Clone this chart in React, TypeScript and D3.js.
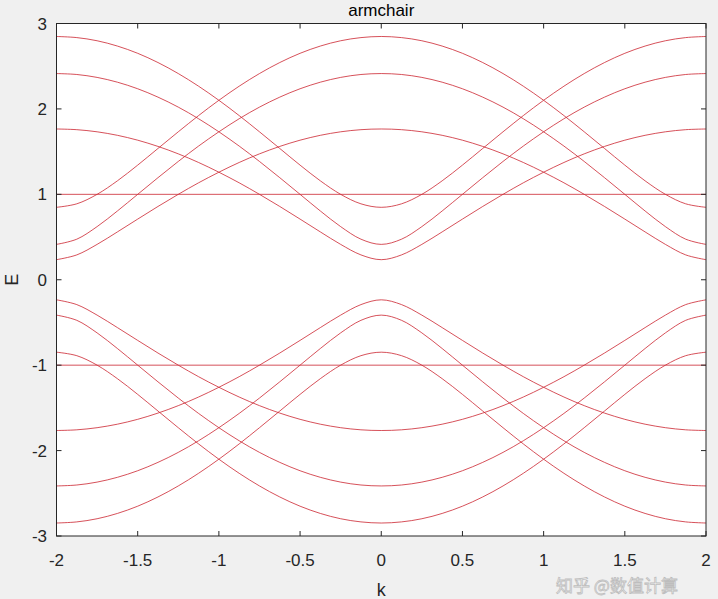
import React from "react";
import * as d3 from "d3";

const kValues = d3.range(33).map((i) => -2 + i * 0.125);

const upperA = [0.848,0.889,1.000,1.158,1.342,1.537,1.732,1.922,2.101,2.266,2.414,2.543,2.651,2.736,2.798,2.835,2.848,2.835,2.798,2.736,2.651,2.543,2.414,2.266,2.101,1.922,1.732,1.537,1.342,1.158,1.000,0.889,0.848];
const upperB = [2.848,2.835,2.798,2.736,2.651,2.543,2.414,2.266,2.101,1.922,1.732,1.537,1.342,1.158,1.000,0.889,0.848,0.889,1.000,1.158,1.342,1.537,1.732,1.922,2.101,2.266,2.414,2.543,2.651,2.736,2.798,2.835,2.848];
const upperC = [0.414,0.475,0.622,0.805,1.000,1.195,1.385,1.565,1.732,1.885,2.021,2.138,2.236,2.313,2.369,2.403,2.414,2.403,2.369,2.313,2.236,2.138,2.021,1.885,1.732,1.565,1.385,1.195,1.000,0.805,0.622,0.475,0.414];
const upperD = [2.414,2.403,2.369,2.313,2.236,2.138,2.021,1.885,1.732,1.565,1.385,1.195,1.000,0.805,0.622,0.475,0.414,0.475,0.622,0.805,1.000,1.195,1.385,1.565,1.732,1.885,2.021,2.138,2.236,2.313,2.369,2.403,2.414];
const upperE = [0.235,0.291,0.414,0.560,0.710,0.858,1.000,1.135,1.259,1.373,1.474,1.561,1.634,1.691,1.732,1.757,1.765,1.757,1.732,1.691,1.634,1.561,1.474,1.373,1.259,1.135,1.000,0.858,0.710,0.560,0.414,0.291,0.235];
const upperF = [1.765,1.757,1.732,1.691,1.634,1.561,1.474,1.373,1.259,1.135,1.000,0.858,0.710,0.560,0.414,0.291,0.235,0.291,0.414,0.560,0.710,0.858,1.000,1.135,1.259,1.373,1.474,1.561,1.634,1.691,1.732,1.757,1.765];

const lowerA = [-0.848,-0.889,-1.000,-1.158,-1.342,-1.537,-1.732,-1.922,-2.101,-2.266,-2.414,-2.543,-2.651,-2.736,-2.798,-2.835,-2.848,-2.835,-2.798,-2.736,-2.651,-2.543,-2.414,-2.266,-2.101,-1.922,-1.732,-1.537,-1.342,-1.158,-1.000,-0.889,-0.848];
const lowerB = [-2.848,-2.835,-2.798,-2.736,-2.651,-2.543,-2.414,-2.266,-2.101,-1.922,-1.732,-1.537,-1.342,-1.158,-1.000,-0.889,-0.848,-0.889,-1.000,-1.158,-1.342,-1.537,-1.732,-1.922,-2.101,-2.266,-2.414,-2.543,-2.651,-2.736,-2.798,-2.835,-2.848];
const lowerC = [-0.414,-0.475,-0.622,-0.805,-1.000,-1.195,-1.385,-1.565,-1.732,-1.885,-2.021,-2.138,-2.236,-2.313,-2.369,-2.403,-2.414,-2.403,-2.369,-2.313,-2.236,-2.138,-2.021,-1.885,-1.732,-1.565,-1.385,-1.195,-1.000,-0.805,-0.622,-0.475,-0.414];
const lowerD = [-2.414,-2.403,-2.369,-2.313,-2.236,-2.138,-2.021,-1.885,-1.732,-1.565,-1.385,-1.195,-1.000,-0.805,-0.622,-0.475,-0.414,-0.475,-0.622,-0.805,-1.000,-1.195,-1.385,-1.565,-1.732,-1.885,-2.021,-2.138,-2.236,-2.313,-2.369,-2.403,-2.414];
const lowerE = [-0.235,-0.291,-0.414,-0.560,-0.710,-0.858,-1.000,-1.135,-1.259,-1.373,-1.474,-1.561,-1.634,-1.691,-1.732,-1.757,-1.765,-1.757,-1.732,-1.691,-1.634,-1.561,-1.474,-1.373,-1.259,-1.135,-1.000,-0.858,-0.710,-0.560,-0.414,-0.291,-0.235];
const lowerF = [-1.765,-1.757,-1.732,-1.691,-1.634,-1.561,-1.474,-1.373,-1.259,-1.135,-1.000,-0.858,-0.710,-0.560,-0.414,-0.291,-0.235,-0.291,-0.414,-0.560,-0.710,-0.858,-1.000,-1.135,-1.259,-1.373,-1.474,-1.561,-1.634,-1.691,-1.732,-1.757,-1.765];

const flatBands = [1, -1];

const xTicks = [-2, -1.5, -1, -0.5, 0, 0.5, 1, 1.5, 2];
const yTicks = [-3, -2, -1, 0, 1, 2, 3];

const titleText = "armchair";
const xLabel = "k";
const yLabel = "E";
const watermark = "知乎 @数值计算";

const W = 718;
const H = 599;
const L = 56.5;
const R = 706;
const T = 23.5;
const B = 536;

export default function App() {
  const x = d3.scaleLinear().domain([-2, 2]).range([L, R]);
  const y = d3.scaleLinear().domain([-3, 3]).range([B, T]);
  const line = d3
    .line<number>()
    .x((_, i) => x(kValues[i]))
    .y((d) => y(d))
    .curve(d3.curveCatmullRom);
  const bands = [upperA, upperB, upperC, upperD, upperE, upperF, lowerA, lowerB, lowerC, lowerD, lowerE, lowerF];
  const font = "'Liberation Sans', Arial, sans-serif";
  const axisColor = "#262626";
  const tickLen = 5;
  return (
    <svg
      width={W}
      height={H}
      style={{ position: "fixed", left: 0, top: 0, background: "#f0f0f0" }}
      fontFamily={font}
    >
      <rect x={0} y={0} width={W} height={H} fill="#f0f0f0" />
      <rect x={L} y={T} width={R - L} height={B - T} fill="#ffffff" />
      <g fill="none" stroke="#cc2430" strokeWidth={0.8}>
        {bands.map((b, i) => (
          <path key={i} d={line(b) || ""} />
        ))}
        {flatBands.map((v, i) => (
          <line key={"f" + i} x1={x(-2)} x2={x(2)} y1={y(v)} y2={y(v)} />
        ))}
      </g>
      <g stroke={axisColor} strokeWidth={1}>
        <rect x={L} y={T} width={R - L} height={B - T} fill="none" />
        {xTicks.map((t) => (
          <g key={"xt" + t}>
            <line x1={x(t)} x2={x(t)} y1={B} y2={B - tickLen} />
            <line x1={x(t)} x2={x(t)} y1={T} y2={T + tickLen} />
          </g>
        ))}
        {yTicks.map((t) => (
          <g key={"yt" + t}>
            <line x1={L} x2={L + tickLen} y1={y(t)} y2={y(t)} />
            <line x1={R} x2={R - tickLen} y1={y(t)} y2={y(t)} />
          </g>
        ))}
      </g>
      <g fill={axisColor} fontSize={17}>
        {xTicks.map((t) => (
          <text key={"xl" + t} x={x(t)} y={566} textAnchor="middle">
            {String(t)}
          </text>
        ))}
        {yTicks.map((t) => (
          <text key={"yl" + t} x={47} y={y(t) + 6} textAnchor="end">
            {String(t)}
          </text>
        ))}
      </g>
      <text x={(L + R) / 2} y={16} textAnchor="middle" fontSize={17} fill="#000">
        {titleText}
      </text>
      <text x={(L + R) / 2} y={596} textAnchor="middle" fontSize={18} fill={axisColor}>
        {xLabel}
      </text>
      <text
        transform={`translate(18, ${(T + B) / 2}) rotate(-90)`}
        textAnchor="middle"
        fontSize={18}
        fill={axisColor}
      >
        {yLabel}
      </text>
      <text
        x={556}
        y={592}
        fontSize={17}
        fontFamily="'Noto Sans CJK SC', sans-serif"
        fill="#ffffff"
        stroke="#b8b8b8"
        strokeWidth={0.8}
        opacity={0.9}
      >
        {watermark}
      </text>
    </svg>
  );
}
